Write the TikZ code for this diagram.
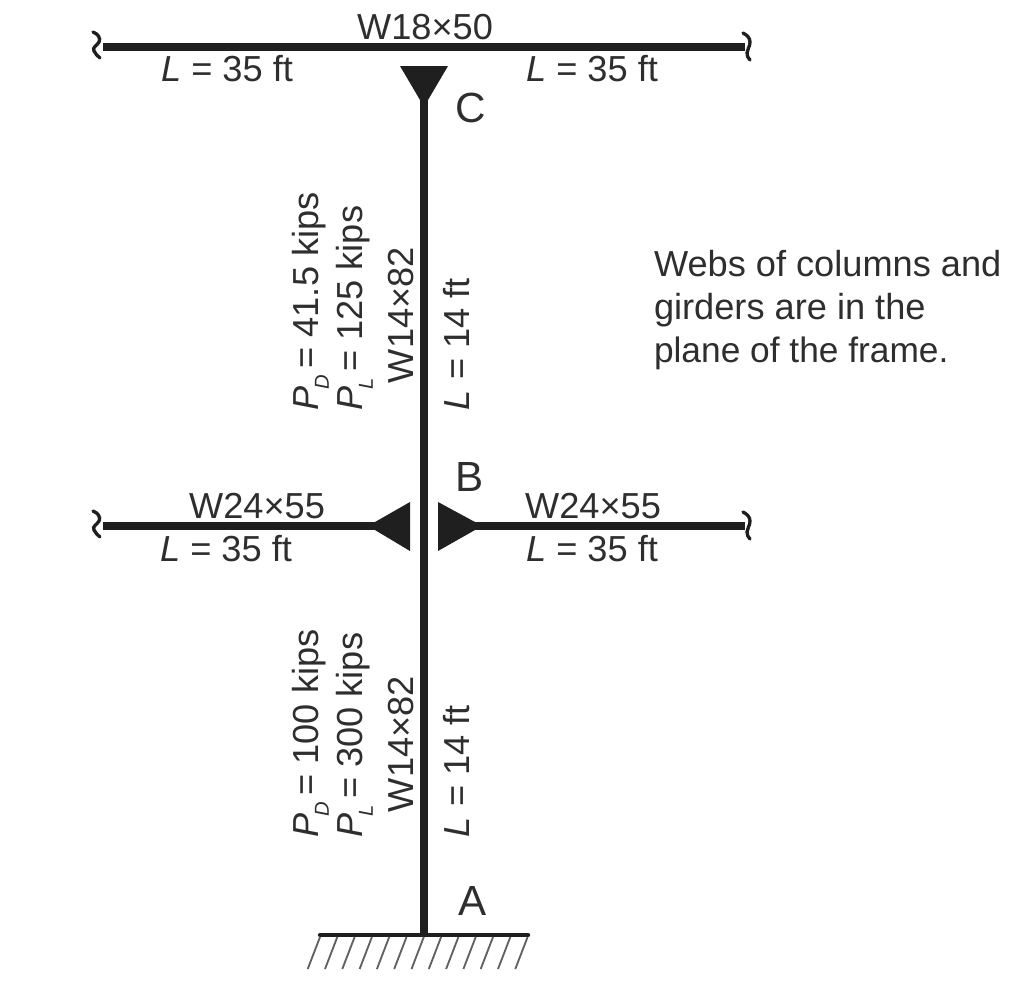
\documentclass[tikz,border=0pt]{standalone}
\usepackage{fontspec}
\setmainfont{Liberation Sans}
\newcommand{\lblP}[1]{\textit{P}\kern-2.2pt\raisebox{-0.3em}{\fontsize{11.5}{11.5}\selectfont\textit{#1}}\kern3.8pt}
\tikzset{
  member/.style={draw=black!88, line width=9pt*0.567},
  gusset/.style={fill=black!88, draw=none},
  lbl/.style={inner sep=0pt, outer sep=0pt, anchor=base, text=black!82, font=\fontsize{20.6}{24}\selectfont},
  lblup/.style={lbl, rotate=90, anchor=base west},
  joint/.style={lbl, font=\fontsize{24}{24}\selectfont},
  hatch/.style={draw=black!62, line width=1.05pt},
  brk/.style={draw=black!88, line width=1.9pt, line cap=round}
}
\begin{document}
\begin{tikzpicture}[x=0.02cm, y=-0.02cm]
      \useasboundingbox (0,0) rectangle (1024,988);
      \fill[white] (0,0) rectangle (1024,988);
      % joints and member ends
      \coordinate (A) at (424,935);
      \coordinate (B) at (424,526);
      \coordinate (C) at (424,95);
      \coordinate (TL) at (103,47);
      \coordinate (TR) at (745,47);
      \coordinate (ML) at (103,526);
      \coordinate (MLe) at (380,526);
      \coordinate (MRe) at (470,526);
      \coordinate (MR) at (745,526);
      \coordinate (GL) at (320,935);
      \coordinate (GR) at (528,935);
      % members
      \draw[member] (TL) -- (TR);
      \draw[member] (ML) -- (MLe);
      \draw[member] (MRe) -- (MR);
      \draw[member] (C) -- (A);
      % connections
      \fill[gusset] (400,66) -- (448,66) -- (428,100) -- (420,100) -- cycle;
      \fill[gusset] (410,502) -- (410,551) -- (375,530) -- (375,522) -- cycle;
      \fill[gusset] (438,502) -- (438,551) -- (475,530) -- (475,522) -- cycle;
      % ground
      \draw[draw=black!88, line width=2.2pt*0.567*2, line cap=round] (GL) -- (GR);
      \foreach \i in {0,...,12}
        \draw[hatch] (320+17.3*\i,937) -- (307.7+17.3*\i,969);
      % broken ends
      \foreach \ey in {47,526} {
        \draw[brk] (93,\ey-15) .. controls (98,\ey-13) and (101,\ey-9) .. (99,\ey-5)
          .. controls (97,\ey-1) and (92,\ey) .. (94,\ey+4)
          .. controls (95,\ey+7) and (98,\ey+9) .. (100,\ey+11);
        \draw[brk] (743,\ey-14) .. controls (747,\ey-12) and (750,\ey-9) .. (750,\ey-5)
          .. controls (750,\ey) and (747,\ey+2) .. (747,\ey+6)
          .. controls (747,\ey+9) and (748,\ey+11) .. (750,\ey+13);
      }
      % beam labels
      \node[lbl] (top) at (425,39) {W18\texttimes 50};
      \node[lbl] (topL) at (227,81) {\textit{L} = 35 ft};
      \node[lbl] (topR) at (592,81) {\textit{L} = 35 ft};
      \node[lbl] (midl) at (257,518) {W24\texttimes 55};
      \node[lbl] (midr) at (593,518) {W24\texttimes 55};
      \node[lbl] (midlL) at (226,561) {\textit{L} = 35 ft};
      \node[lbl] (midrL) at (592,561) {\textit{L} = 35 ft};
      % joint labels
      \node[joint] (lblC) at (471,122) {C};
      \node[joint] (lblB) at (470,491) {B};
      \node[joint] (lblA) at (473,915) {A};
      % upper column
      \node[lblup] (upD) at (318,410) {\lblP{D} = 41.5 kips};
      \node[lblup] (upL) at (362,410) {\lblP{L} = 125 kips};
      \node[lblup] (upW) at (413,383) {W14\texttimes 82};
      \node[lblup] (upH) at (469,410) {\textit{L} = 14 ft};
      % lower column
      \node[lblup] (loD) at (318,837) {\lblP{D} = 100 kips};
      \node[lblup] (loL) at (362,837) {\lblP{L} = 300 kips};
      \node[lblup] (loW) at (413,812) {W14\texttimes 82};
      \node[lblup] (loH) at (469,837) {\textit{L} = 14 ft};
      % note
      \node[lbl, anchor=base west] (note1) at (654,276) {Webs of columns and};
      \node[lbl, anchor=base west] (note2) at (654,319) {girders are in the};
      \node[lbl, anchor=base west, font=\fontsize{20.1}{24}\selectfont] (note3) at (654,362) {plane of the frame.};
\end{tikzpicture}
\end{document}
